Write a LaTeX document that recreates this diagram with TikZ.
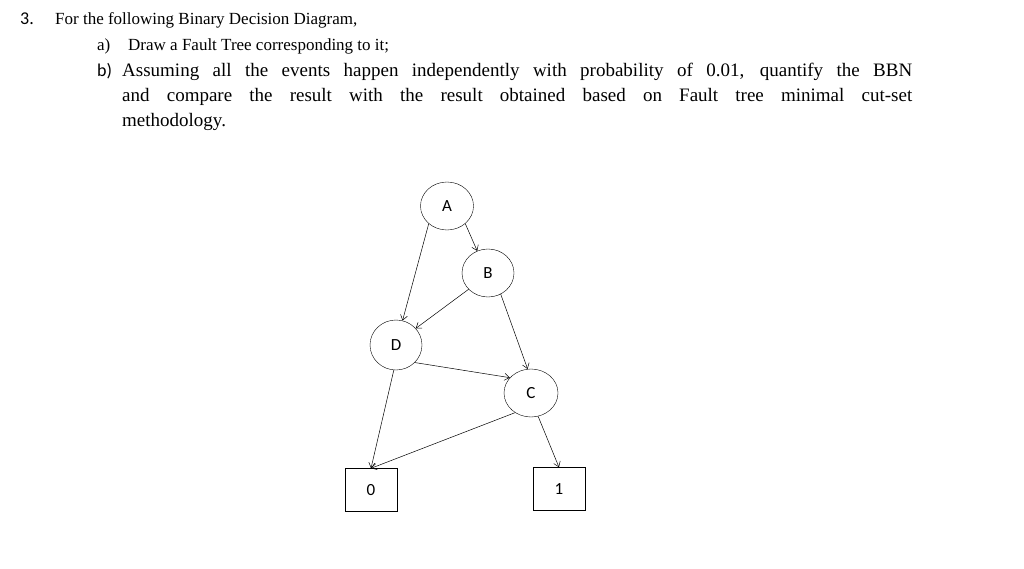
\documentclass[tikz,border=0pt]{standalone}
\usepackage{fontspec}
\setmainfont{Liberation Serif}
\newfontfamily\lblfont{Carlito}
\begin{document}
\begin{tikzpicture}[x=1pt,y=-1pt,
  txt/.style={anchor=base west,inner sep=0pt,font=\fontsize{17}{25}\selectfont},
  lbl/.style={anchor=base west,inner sep=0pt,font=\lblfont\fontsize{18}{25}\selectfont},
  bdd/.style={draw,ellipse,minimum width=53pt,minimum height=48pt,inner sep=0pt,font=\lblfont\fontsize{17}{18}\selectfont},
  term/.style={draw,rectangle,minimum width=52pt,minimum height=43pt,inner sep=0pt,font=\lblfont\fontsize{17}{18}\selectfont},
  arr/.style={-{Straight Barb[length=5pt,width=7pt]},line width=0.5pt}]
\useasboundingbox (0,0) rectangle (1024,569);
\usetikzlibrary{shapes.geometric,arrows.meta}
\node[lbl] (n3) at (20,25) {3.};
\node[txt] (t1) at (55,25) {For the following Binary Decision Diagram,};
\node[txt] (la) at (97,51) {a)};
\node[txt] (t2) at (128,51) {Draw a Fault Tree corresponding to it;};
\node[lbl] (lb) at (97,77) {b)};
\node[anchor=base west,inner sep=0pt,text width=790pt,align=justify,font=\fontsize{19}{25}\selectfont] (t3) at (122,77)
 {Assuming all the events happen independently with probability of 0.01, quantify the BBN\linebreak and compare the result with the result obtained based on Fault tree minimal cut-set\linebreak methodology.};
\node[bdd] (A) at (447,206) {A};
\node[bdd,minimum width=52pt,minimum height=48pt] (B) at (488,273) {B};
\node[bdd,minimum width=52pt,minimum height=50pt] (D) at (396,345) {D};
\node[bdd,minimum width=54pt,minimum height=48pt] (C) at (531,393) {C};
\node[term] (z) at (371,490) {0};
\node[term] (o) at (559,489) {1};
\draw[arr] (A.224) -- (D.75);
\draw[arr] (A.316) -- (B.116);
\draw[arr] (B.220) -- (D.40);
\draw[arr] (B.301) -- (C.98);
\draw[arr] (D.317) -- (C.144);
\draw[arr] (D.265) -- (z.north);
\draw[arr] (C.231) -- (z.north);
\draw[arr] (C.287) -- (o.north);
\end{tikzpicture}
\end{document}
